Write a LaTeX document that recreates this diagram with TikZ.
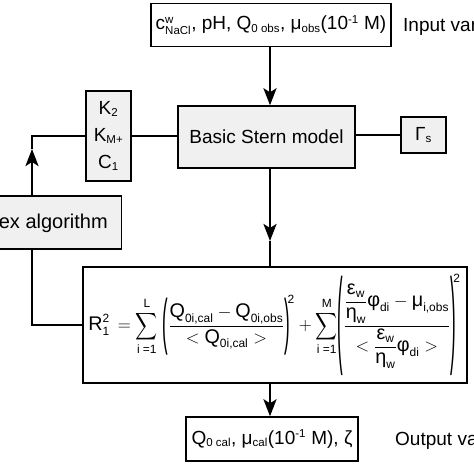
\documentclass[tikz,border=0pt]{standalone}
\usepackage{amsmath}
\usepackage{graphicx}
\usepackage{fontspec}
\setmainfont{Liberation Sans}
\usetikzlibrary{arrows.meta}
\definecolor{boxgray}{RGB}{240,240,240}
\newcommand\gk[1]{\text{#1}}
\newcommand\sx[1]{\text{\fontsize{11.5}{12}\selectfont #1}}
\newcommand\lpar[1]{\mathopen{\vcenter{\hbox{\scalebox{0.85}[#1]{(}}}}}
\newcommand\rpar[1]{\mathclose{\vcenter{\hbox{\scalebox{0.85}[#1]{)}}}}}
\newcommand\bsum[2]{\mathop{\vcenter{\hbox{\scalebox{0.85}[1.05]{$\displaystyle\sum$}}}}\limits_{#1}^{#2}}
\begin{document}
\begin{tikzpicture}[x=1pt,y=-1pt,
  every node/.style={font=\fontsize{19}{23}\selectfont, inner sep=0pt},
  boxw/.style={draw=black, line width=1.4pt, fill=white},
  boxg/.style={draw=black, line width=1.4pt, fill=boxgray},
  conn/.style={line width=2.6pt, draw=black},
  tip/.style={-{Stealth[length=17pt,width=13pt,inset=4pt]}},
  lbl/.style={anchor=west}]
\useasboundingbox (0,0) rectangle (474,474);
\clip (0,0) rectangle (474,474);
% boxes
\node[boxw, minimum width=240pt, minimum height=43pt] (top) at (271,25)
  {$\gk{c}^{\sx{w}}_{\sx{NaCl}}$, pH, Q$_{\sx{0 obs}}$, \gk{μ}$_{\sx{obs}}$(10$^{\sx{-1}}$ M)};
\node[lbl] (inlbl) at (403,27) {Input variables};
\node[boxg, minimum width=177pt, minimum height=62pt] (stern) at (266.5,137) {Basic Stern model};
\node[boxg, minimum width=45pt, minimum height=90pt, align=center,
  font=\fontsize{19}{27}\selectfont] (param) at (108.5,136)
  {K$_{\sx{2}}$\\K$_{\sx{M+}}$\\C$_{\sx{1}}$};
\node[boxg, minimum width=45pt, minimum height=36pt] (gam) at (423.5,135) {\gk{Γ}$_{\sx{s}}$};
\node[boxg, minimum width=170pt, minimum height=53pt, anchor=east] (simplex) at (122,222.5) {};
\node[anchor=east, font=\fontsize{20}{24}\selectfont] (simtxt) at (108,223) {Simplex algorithm};
\node[boxw, minimum width=384pt, minimum height=116pt] (rbox) at (275,325) {};
\node (formula) at (274.5,325) {\scalebox{1.04}{$\displaystyle
  \gk{R}_{\sx{1}}^{\sx{2}}\, = \bsum{\sx{i =1}}{\sx{L}}\;\lpar{3.1}\frac{\gk{Q}_{\sx{0i,cal}}-\gk{Q}_{\sx{0i,obs}}}{<\gk{Q}_{\sx{0i,cal}}>}\rpar{3.1}^{\!\sx{2}}
  + \bsum{\sx{i =1}}{\sx{M}}\lpar{5.4}\frac{\dfrac{\gk{ε}_{\sx{w}}}{\gk{η}_{\sx{w}}}\gk{φ}_{\sx{di}}-\gk{μ}_{\sx{i,obs}}}{<\dfrac{\gk{ε}_{\sx{w}}}{\gk{η}_{\sx{w}}}\gk{φ}_{\sx{di}}>}\rpar{5.4}^{\!\sx{2}}$}};
\node[boxw, minimum width=172pt, minimum height=44pt] (out) at (272,439)
  {Q$_{\sx{0 cal}}$, \gk{μ}$_{\sx{cal}}$(10$^{\sx{-1}}$ M), \gk{ζ}};
\node[lbl] (outlbl) at (395,441) {Output variables};
% helper coordinates
\coordinate (vx) at (270,0);
\coordinate (lx) at (32,0);
\coordinate (midA) at (270,241);
\coordinate (midB) at (32,149);
% connectors
\draw[conn,tip] (vx |- top.south) -- (vx |- stern.north);
\draw[conn] (param.east) -- (param.east -| stern.west);
\draw[conn] (stern.east |- gam.west) -- (gam.west);
\draw[conn,tip] (vx |- stern.south) -- (midA);
\draw[conn] (midA) -- (vx |- rbox.north);
\draw[conn,tip] (vx |- rbox.south) -- (vx |- out.north);
\draw[conn,tip] (lx |- simplex.north) -- (midB);
\draw[conn] (midB) |- (param.west);
\draw[conn] (lx |- simplex.south) |- (rbox.west);
\end{tikzpicture}
\end{document}
